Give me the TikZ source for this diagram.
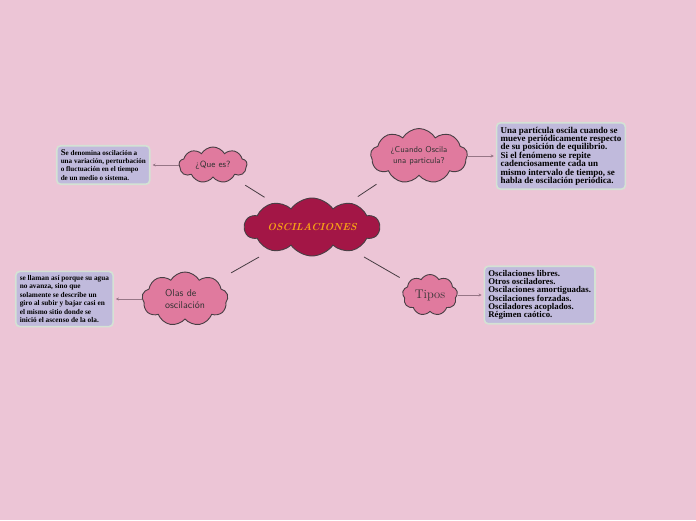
\documentclass[tikz,border=0pt]{standalone}
\usepackage{fontspec}
\newfontfamily\boxfont{Liberation Serif}
\usetikzlibrary{positioning, arrows.meta, shapes.symbols}

\definecolor{bgpink}{RGB}{236,197,214}
\definecolor{cloudpink}{RGB}{224,122,158}
\definecolor{centralred}{RGB}{163,22,70}
\definecolor{boxlilac}{RGB}{192,186,220}
\definecolor{boxedge}{RGB}{212,226,212}
\definecolor{edgegrey}{RGB}{72,62,68}
\definecolor{linegrey}{RGB}{70,60,66}
\definecolor{arrowmauve}{RGB}{150,118,134}
\definecolor{titleorange}{RGB}{246,160,22}

\begin{document}
\begin{tikzpicture}[
    x=1pt, y=-1pt,
    idea/.style={
        cloud,
        cloud puffs=9,
        cloud puff arc=120,
        cloud ignores aspect,
        draw=edgegrey,
        line width=0.9pt,
        fill=cloudpink,
        align=center,
        inner sep=1pt,
        text=black!80,
        font=\sffamily\addfontfeatures{LetterSpace=8}\fontsize{9}{11}\selectfont
    },
    central/.style={
        idea,
        cloud puffs=10,
        cloud puff arc=110,
        fill=centralred,
        text=titleorange,
        font=\bfseries\itshape\fontsize{10.2}{12}\selectfont
    },
    info/.style={
        rectangle,
        rounded corners=4pt,
        draw=boxedge,
        line width=1.6pt,
        fill=boxlilac,
        align=left,
        inner sep=4pt,
        text=black,
        font=\boxfont\bfseries\fontsize{7.1}{8.2}\selectfont
    },
    link/.style={
        draw=linegrey,
        line width=0.8pt
    },
    arrow/.style={
        -{Stealth[length=3pt, width=3pt]},
        draw=arrowmauve,
        line width=0.8pt,
        shorten >=2pt
    },
    node distance=28pt
]

% ===== fondo =====
\fill[bgpink] (0,0) rectangle (696,520);
\useasboundingbox (0,0) rectangle (696,520);

% ===== idea central =====
\node[central, minimum width=135pt, minimum height=58pt] (centro) at (312,227)
    {\raisebox{-3pt}{OSCILACIONES}};

% ===== nubes =====
\node[idea, minimum width=68pt, minimum height=36pt] (que) at (213,165) {¿Que es?};
\node[idea, minimum width=97pt, minimum height=55pt,
      font=\sffamily\addfontfeatures{LetterSpace=10}\fontsize{8.5}{11}\selectfont] (cuando) at (419,156)
    {¿Cuando Oscila\\una particula?};
\node[idea, minimum width=86pt, minimum height=54pt, align=left,
      font=\sffamily\addfontfeatures{LetterSpace=10}\fontsize{10}{11.5}\selectfont] (olas) at (185,299)
    {Olas de\\oscilación};
\node[idea, minimum width=55pt, minimum height=41pt,
      font=\fontsize{12.5}{13}\selectfont] (tipos) at (430,295) {Tipos};

% ===== cuadros de texto =====
\node[info, left=of que] (queinfo)
    {{\fontsize{8.8}{8}\selectfont S}e denomina oscilación a\\
     una variación, perturbación\\
     o fluctuación en el tiempo\\
     de un medio o sistema.};
\node[info, right=of cuando,
      font=\boxfont\bfseries\fontsize{9}{8.2}\selectfont] (cuandoinfo)
    {Una partícula oscila cuando se\\
     mueve periódicamente respecto\\
     de su posición de equilibrio.\\
     Si el fenómeno se repite\\
     cadenciosamente cada un\\
     mismo intervalo de tiempo, se\\
     habla de oscilación periódica.};
\node[info, left=of olas, font=\boxfont\bfseries\fontsize{7.3}{8.4}\selectfont] (olasinfo)
    {se llaman así porque su agua\\
     no avanza, sino que\\
     solamente se describe un\\
     giro al subir y bajar casi en\\
     el mismo sitio donde se\\
     inició el ascenso de la ola.};
\node[info, right=26pt of tipos,
      font=\boxfont\bfseries\fontsize{8.8}{8.3}\selectfont] (tiposinfo)
    {Oscilaciones libres.\\
     Otros osciladores.\\
     Oscilaciones amortiguadas.\\
     Oscilaciones forzadas.\\
     Osciladores acoplados.\\
     Régimen caótico.};

% ===== conexiones =====
\foreach \i/\a/\b in {que/56pt/38pt, cuando/55pt/51pt, olas/61pt/53pt, tipos/60pt/35pt} {
    \draw[link, shorten <=\a, shorten >=\b] (centro.center) -- (\i.center);
}
\foreach \i/\j in {que/queinfo, cuando/cuandoinfo, olas/olasinfo, tipos/tiposinfo} {
    \draw[arrow] (\i) -- (\j);
}

\end{tikzpicture}
\end{document}
